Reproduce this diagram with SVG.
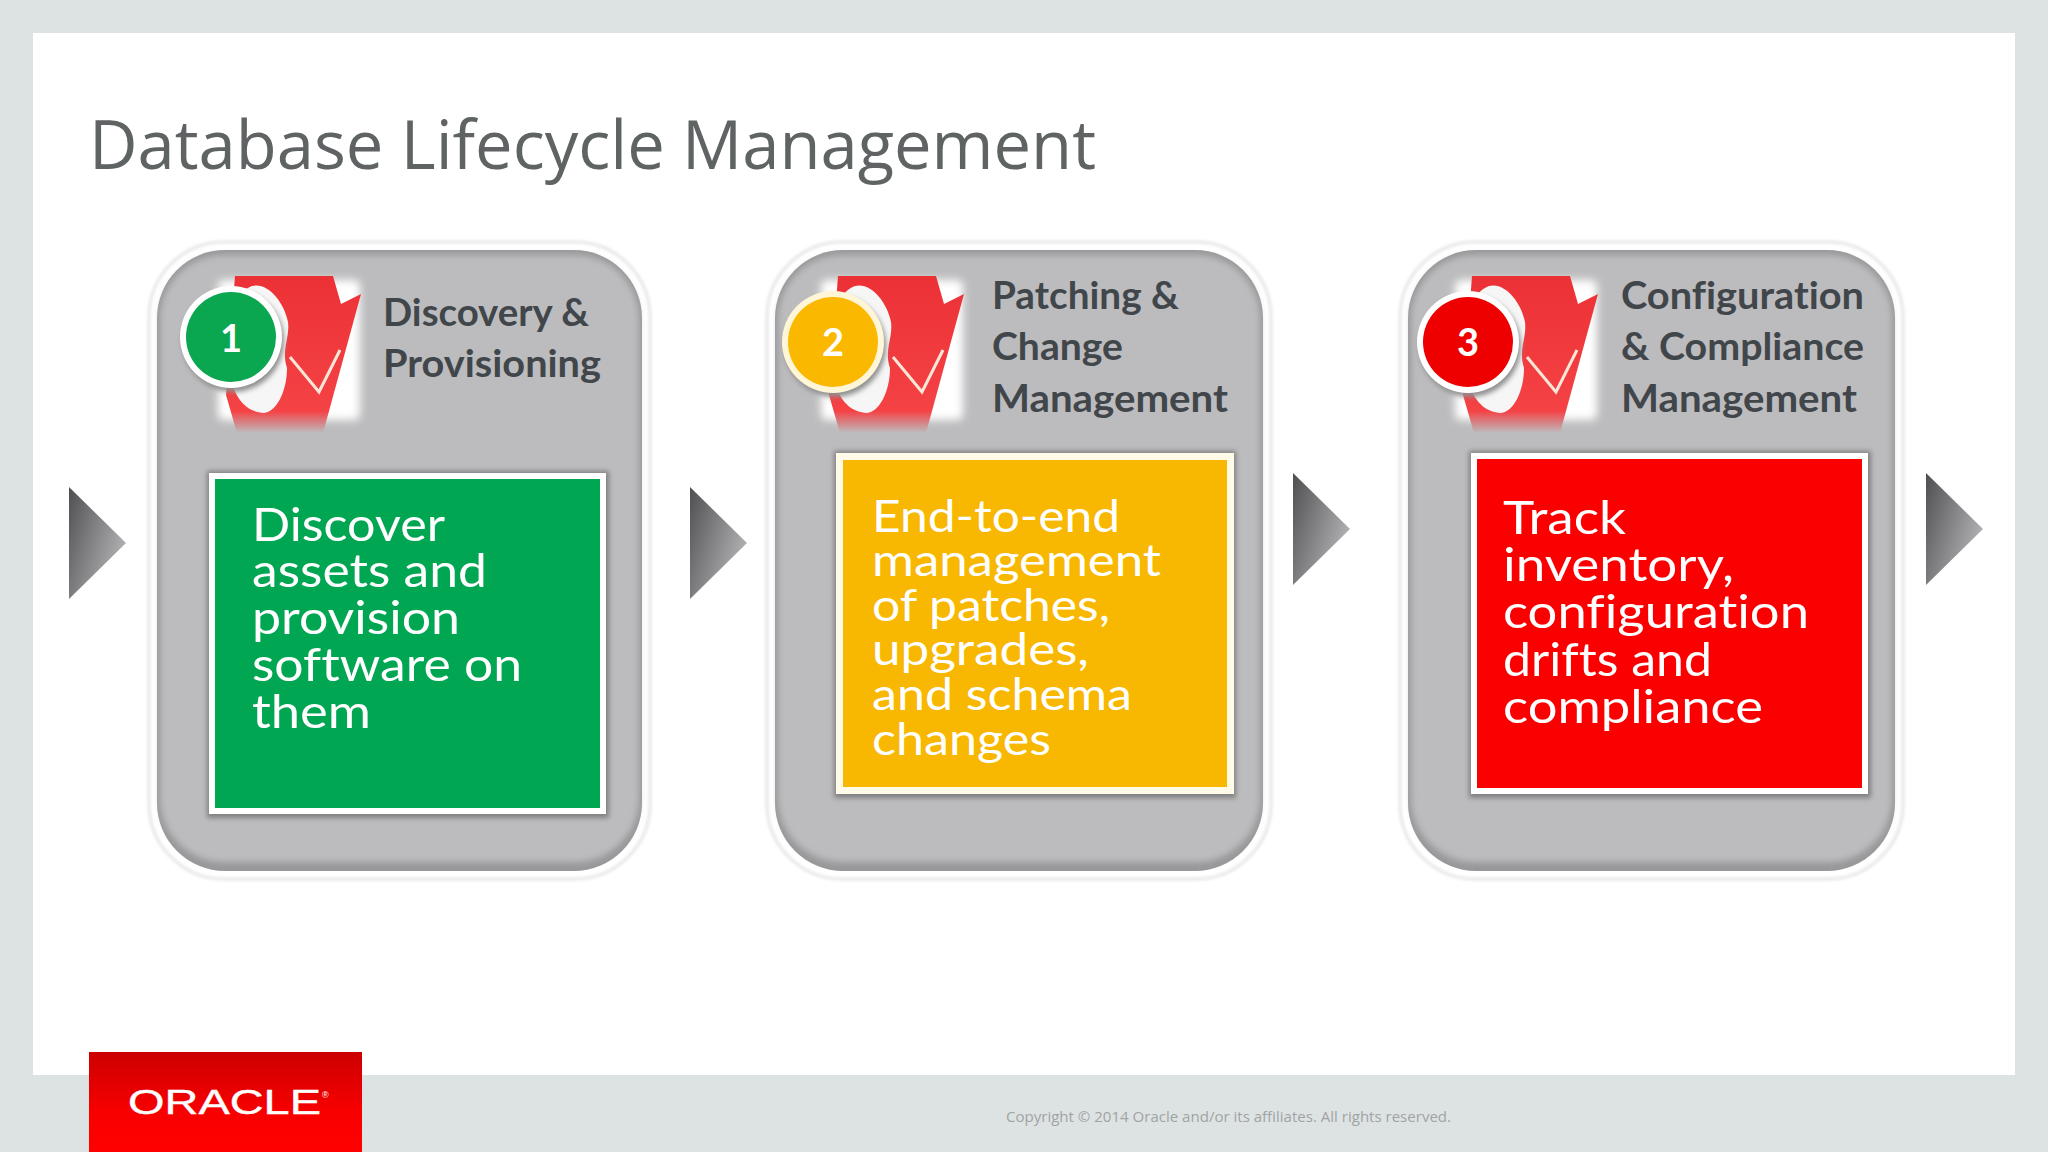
<svg xmlns="http://www.w3.org/2000/svg" width="2048" height="1152" viewBox="0 0 2048 1152">
<style>
.head{font-family:"Lato","Liberation Sans",sans-serif;font-weight:700;font-size:38px;fill:#41464b;font-variant-ligatures:none}
.body{font-family:"Lato","Liberation Sans",sans-serif;font-size:47px;fill:#fff;font-variant-ligatures:none}
.tight{font-size:45px}
.num{font-family:"Lato","Liberation Sans",sans-serif;font-weight:700;font-size:38px;fill:#fff;text-anchor:middle}
.rim{fill:#fff;stroke:#e6e6e6;stroke-width:3;filter:url(#b1)}
.edge{fill:#98989a}
.core{fill:#bcbcbe;filter:url(#b3)}
.frame{fill:#fff}
</style>
<defs>
<filter id="b3" x="-10%" y="-10%" width="120%" height="120%"><feGaussianBlur stdDeviation="3"/></filter>
<filter id="b4" x="-20%" y="-20%" width="140%" height="140%"><feGaussianBlur stdDeviation="4"/></filter>
<filter id="b1" x="-10%" y="-10%" width="120%" height="120%"><feGaussianBlur stdDeviation="1.5"/></filter>
<filter id="sh" x="-20%" y="-20%" width="140%" height="140%"><feGaussianBlur stdDeviation="2.5"/></filter>
<linearGradient id="arrow" x1="0" y1="0" x2="1" y2="0.6"><stop offset="0" stop-color="#4f4f52"/><stop offset="1" stop-color="#b4b4b6"/></linearGradient>
<linearGradient id="orc" x1="0" y1="0" x2="0" y2="1"><stop offset="0" stop-color="#cc0000"/><stop offset="0.6" stop-color="#f80000"/><stop offset="1" stop-color="#ff0000"/></linearGradient>
<linearGradient id="red" x1="0" y1="0" x2="0" y2="1"><stop offset="0" stop-color="#ec3136"/><stop offset="0.86" stop-color="#f44245"/><stop offset="1" stop-color="#bcbcbe"/></linearGradient>
<g id="icon">
<rect x="218" y="280" width="142" height="140" rx="6" fill="#fff" filter="url(#b4)"/>
<path d="M235 276H333L341 304L361 294L323 433H237L226 395Z" fill="url(#red)"/>
<path d="M252 286C268 282 284 302 288 322C290 338 281 350 287 368C287 392 276 412 264 413C250 412 240 405 232 385C222 350 226 295 252 286Z" fill="#f6f6f6"/>
<path d="M290 357L319 392L340 350" fill="none" stroke="#fae6d6" stroke-width="3"/>
</g>
<path id="tri" d="M0 0L57 56L0 112Z" fill="url(#arrow)"/>
</defs>
<rect id="page" width="2048" height="1152" fill="#dde3e3"/>
<rect x="33" y="33" width="1982" height="1042" fill="#fff"/>
<text id="title" x="89" y="169" font-family="'Open Sans','Noto Sans',sans-serif" font-size="68" fill="#5f6364" textLength="1007" lengthAdjust="spacingAndGlyphs">Database Lifecycle Management</text>

<g id="connectors">
<use href="#tri" x="69" y="487"/>
<use href="#tri" x="690" y="487"/>
<use href="#tri" x="1293" y="473"/>
<use href="#tri" x="1926" y="473"/>
</g>

<g id="node-1">
<rect class="rim" x="149" y="242" width="501" height="637" rx="75"/>
<rect class="edge" x="157" y="250" width="485" height="621" rx="68"/>
<rect class="core" x="160" y="255" width="479" height="607" rx="64"/>
<use href="#icon"/>
<circle cx="233" cy="341" r="51" fill="#8f8f90" filter="url(#sh)"/>
<circle cx="231" cy="337" r="51" fill="#fff"/>
<circle cx="231" cy="337" r="45" fill="#0aa650"/>
<text class="num" x="231" y="352">1</text>
<text class="head" x="383" y="326" textLength="206" lengthAdjust="spacingAndGlyphs">Discovery &amp;</text>
<text class="head" x="383" y="377" textLength="218" lengthAdjust="spacingAndGlyphs">Provisioning</text>
<rect x="207" y="471" width="402" height="347" fill="#808082" filter="url(#sh)"/>
<rect class="frame" x="209" y="473" width="397" height="341"/>
<rect x="215" y="479" width="385" height="329" fill="#00a651"/>
<text class="body" x="252" y="541" textLength="193" lengthAdjust="spacingAndGlyphs">Discover</text>
<text class="body" x="252" y="587" textLength="235" lengthAdjust="spacingAndGlyphs">assets and</text>
<text class="body" x="252" y="634" textLength="208" lengthAdjust="spacingAndGlyphs">provision</text>
<text class="body" x="252" y="681" textLength="270" lengthAdjust="spacingAndGlyphs">software on</text>
<text class="body" x="252" y="728" textLength="119" lengthAdjust="spacingAndGlyphs">them</text>
</g>

<g id="node-2">
<rect class="rim" x="767" y="242" width="504" height="637" rx="75"/>
<rect class="edge" x="775" y="250" width="488" height="621" rx="68"/>
<rect class="core" x="778" y="255" width="482" height="607" rx="64"/>
<use href="#icon" x="603"/>
<circle cx="835" cy="346" r="51" fill="#8f8f90" filter="url(#sh)"/>
<circle cx="833" cy="342" r="51" fill="#fff6d8"/>
<circle cx="833" cy="342" r="45" fill="#fbb800"/>
<text class="num" x="833" y="356">2</text>
<text class="head" x="992" y="309" textLength="187" lengthAdjust="spacingAndGlyphs">Patching &amp;</text>
<text class="head" x="992" y="360" textLength="131" lengthAdjust="spacingAndGlyphs">Change</text>
<text class="head" x="992" y="412" textLength="236" lengthAdjust="spacingAndGlyphs">Management</text>
<rect x="834" y="451" width="402" height="347" fill="#808082" filter="url(#sh)"/>
<rect x="836" y="453" width="398" height="341" fill="#fffbe8"/>
<rect x="843" y="460" width="384" height="327" fill="#f8b700"/>
<text class="body tight" x="872" y="532" textLength="248" lengthAdjust="spacingAndGlyphs">End-to-end</text>
<text class="body tight" x="872" y="576" textLength="289" lengthAdjust="spacingAndGlyphs">management</text>
<text class="body tight" x="872" y="621" textLength="238" lengthAdjust="spacingAndGlyphs">of patches,</text>
<text class="body tight" x="872" y="665" textLength="217" lengthAdjust="spacingAndGlyphs">upgrades,</text>
<text class="body tight" x="872" y="710" textLength="260" lengthAdjust="spacingAndGlyphs">and schema</text>
<text class="body tight" x="872" y="755" textLength="179" lengthAdjust="spacingAndGlyphs">changes</text>
</g>

<g id="node-3">
<rect class="rim" x="1400" y="242" width="503" height="637" rx="75"/>
<rect class="edge" x="1408" y="250" width="487" height="621" rx="68"/>
<rect class="core" x="1411" y="255" width="481" height="607" rx="64"/>
<use href="#icon" x="1237"/>
<circle cx="1470" cy="346" r="51" fill="#8f8f90" filter="url(#sh)"/>
<circle cx="1468" cy="342" r="51" fill="#fff"/>
<circle cx="1468" cy="342" r="45" fill="#ee0000"/>
<text class="num" x="1468" y="356">3</text>
<text class="head" x="1621" y="309" textLength="243" lengthAdjust="spacingAndGlyphs">Configuration</text>
<text class="head" x="1621" y="360" textLength="243" lengthAdjust="spacingAndGlyphs">&amp; Compliance</text>
<text class="head" x="1621" y="412" textLength="236" lengthAdjust="spacingAndGlyphs">Management</text>
<rect x="1469" y="451" width="402" height="347" fill="#808082" filter="url(#sh)"/>
<rect class="frame" x="1471" y="453" width="397" height="341"/>
<rect x="1477" y="459" width="385" height="329" fill="#fa0000"/>
<text class="body" x="1503" y="534" textLength="123" lengthAdjust="spacingAndGlyphs">Track</text>
<text class="body" x="1503" y="581" textLength="231" lengthAdjust="spacingAndGlyphs">inventory,</text>
<text class="body" x="1503" y="628" textLength="306" lengthAdjust="spacingAndGlyphs">configuration</text>
<text class="body" x="1503" y="676" textLength="209" lengthAdjust="spacingAndGlyphs">drifts and</text>
<text class="body" x="1503" y="723" textLength="260" lengthAdjust="spacingAndGlyphs">compliance</text>
</g>

<g id="logo">
<rect x="89" y="1052" width="273" height="100" fill="url(#orc)"/>
<text x="128" y="1114" font-family="'Liberation Sans',sans-serif" font-size="35" fill="#fff" textLength="193" lengthAdjust="spacingAndGlyphs" stroke="#fff" stroke-width="0.4">ORACLE</text>
<text x="322" y="1098" font-family="'Liberation Sans',sans-serif" font-size="9" fill="#fff">®</text>
</g>
<text id="copyright" x="1006" y="1122" font-family="'Open Sans','Noto Sans',sans-serif" font-size="15" fill="#a0a3a4" textLength="445" lengthAdjust="spacingAndGlyphs">Copyright © 2014 Oracle and/or its affiliates. All rights reserved.</text>
</svg>
